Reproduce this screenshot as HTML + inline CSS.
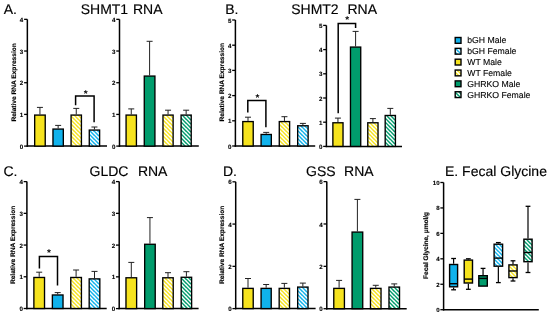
<!DOCTYPE html>
<html><head><meta charset="utf-8"><style>html,body{margin:0;padding:0;background:#fff;width:550px;height:316px;overflow:hidden}svg{display:block}</style></head>
<body>
<svg width="550" height="316" viewBox="0 0 550 316">
<defs>
<pattern id="hy" width="4" height="4" patternUnits="userSpaceOnUse"><rect width="4" height="4" fill="#fff"/><path d="M0,0 L4,4 L1.9,4 L0,2.1Z M2.1,0 L4,0 L4,1.9Z" fill="#F6E31E"/></pattern>
<pattern id="hb" width="4" height="4" patternUnits="userSpaceOnUse"><rect width="4" height="4" fill="#fff"/><path d="M0,0 L4,4 L1.9,4 L0,2.1Z M2.1,0 L4,0 L4,1.9Z" fill="#10B2EC"/></pattern>
<pattern id="hg" width="4" height="4" patternUnits="userSpaceOnUse"><rect width="4" height="4" fill="#fff"/><path d="M0,0 L4,4 L1.9,4 L0,2.1Z M2.1,0 L4,0 L4,1.9Z" fill="#009C6C"/></pattern>
</defs>
<rect width="550" height="316" fill="#fff"/>
<g font-family="Liberation Sans, Arial, sans-serif" fill="#000" text-rendering="geometricPrecision">
<text x="3.77" y="14.3" font-size="14" text-anchor="start" font-weight="normal" stroke="#000" stroke-width="0.15">A.</text>
<text x="80.7" y="14.3" font-size="14" text-anchor="start" font-weight="normal" stroke="#000" stroke-width="0.15">SHMT1</text>
<text x="133.0" y="14.3" font-size="14" text-anchor="start" font-weight="normal" stroke="#000" stroke-width="0.15">RNA</text>
<text x="225.2" y="14.3" font-size="14" text-anchor="start" font-weight="normal" stroke="#000" stroke-width="0.15">B.</text>
<text x="291.2" y="14.3" font-size="14" text-anchor="start" font-weight="normal" stroke="#000" stroke-width="0.15">SHMT2</text>
<text x="347.5" y="14.3" font-size="14" text-anchor="start" font-weight="normal" stroke="#000" stroke-width="0.15">RNA</text>
<text x="3.4" y="176.0" font-size="14" text-anchor="start" font-weight="normal" stroke="#000" stroke-width="0.15">C.</text>
<text x="89.5" y="176.0" font-size="14" text-anchor="start" font-weight="normal" stroke="#000" stroke-width="0.15">GLDC</text>
<text x="137.9" y="176.0" font-size="14" text-anchor="start" font-weight="normal" stroke="#000" stroke-width="0.15">RNA</text>
<text x="223.0" y="176.0" font-size="14" text-anchor="start" font-weight="normal" stroke="#000" stroke-width="0.15">D.</text>
<text x="306.1" y="176.0" font-size="14" text-anchor="start" font-weight="normal" stroke="#000" stroke-width="0.15">GSS</text>
<text x="344.1" y="176.0" font-size="14" text-anchor="start" font-weight="normal" stroke="#000" stroke-width="0.15">RNA</text>
<text x="445.0" y="176.0" font-size="14" text-anchor="start" font-weight="normal" stroke="#000" stroke-width="0.15">E. Fecal Glycine</text>
<text transform="translate(15.6,82.4) rotate(-90)" x="0" y="0" font-size="6.5" font-weight="bold" text-anchor="middle" textLength="78.4" lengthAdjust="spacingAndGlyphs" stroke="#000" stroke-width="0.15">Relative RNA Expression</text>
<text transform="translate(223.5,82.2) rotate(-90)" x="0" y="0" font-size="6.5" font-weight="bold" text-anchor="middle" textLength="78.4" lengthAdjust="spacingAndGlyphs" stroke="#000" stroke-width="0.15">Relative RNA Expression</text>
<text transform="translate(15.1,244.9) rotate(-90)" x="0" y="0" font-size="6.5" font-weight="bold" text-anchor="middle" textLength="78.4" lengthAdjust="spacingAndGlyphs" stroke="#000" stroke-width="0.15">Relative RNA Expression</text>
<text transform="translate(223.6,244.9) rotate(-90)" x="0" y="0" font-size="6.5" font-weight="bold" text-anchor="middle" textLength="78.4" lengthAdjust="spacingAndGlyphs" stroke="#000" stroke-width="0.15">Relative RNA Expression</text>
<line x1="27.35" y1="19.33999999999999" x2="27.35" y2="146.85" stroke="#000" stroke-width="1.5"/>
<line x1="26.6" y1="146.1" x2="107" y2="146.1" stroke="#000" stroke-width="1.5"/>
<line x1="24.1" y1="146.1" x2="27.35" y2="146.1" stroke="#000" stroke-width="1.3"/>
<text x="23.3" y="148.632" font-size="6.2" text-anchor="end" font-weight="bold" stroke="#000" stroke-width="0.12">0</text>
<line x1="24.1" y1="114.41" x2="27.35" y2="114.41" stroke="#000" stroke-width="1.3"/>
<text x="23.3" y="116.942" font-size="6.2" text-anchor="end" font-weight="bold" stroke="#000" stroke-width="0.12">1</text>
<line x1="24.1" y1="82.72" x2="27.35" y2="82.72" stroke="#000" stroke-width="1.3"/>
<text x="23.3" y="85.252" font-size="6.2" text-anchor="end" font-weight="bold" stroke="#000" stroke-width="0.12">2</text>
<line x1="24.1" y1="51.02999999999999" x2="27.35" y2="51.02999999999999" stroke="#000" stroke-width="1.3"/>
<text x="23.3" y="53.56199999999998" font-size="6.2" text-anchor="end" font-weight="bold" stroke="#000" stroke-width="0.12">3</text>
<line x1="24.1" y1="19.33999999999999" x2="27.35" y2="19.33999999999999" stroke="#000" stroke-width="1.3"/>
<text x="23.3" y="21.87199999999999" font-size="6.2" text-anchor="end" font-weight="bold" stroke="#000" stroke-width="0.12">4</text>
<line x1="39.95" y1="114.4" x2="39.95" y2="107.4" stroke="#222" stroke-width="1.0"/>
<line x1="36.95" y1="107.4" x2="42.95" y2="107.4" stroke="#222" stroke-width="1.0"/>
<rect x="34.675" y="115.075" width="10.549999999999999" height="31.024999999999988" fill="#F6E31E" stroke="#000" stroke-width="1.35"/>
<line x1="58.15" y1="128.4" x2="58.15" y2="125.4" stroke="#222" stroke-width="1.0"/>
<line x1="55.15" y1="125.4" x2="61.15" y2="125.4" stroke="#222" stroke-width="1.0"/>
<rect x="52.974999999999994" y="129.07500000000002" width="10.350000000000003" height="17.024999999999988" fill="#10B2EC" stroke="#000" stroke-width="1.35"/>
<line x1="76.25" y1="114.4" x2="76.25" y2="108.4" stroke="#222" stroke-width="1.0"/>
<line x1="73.25" y1="108.4" x2="79.25" y2="108.4" stroke="#222" stroke-width="1.0"/>
<rect x="71.075" y="115.075" width="10.349999999999989" height="31.024999999999988" fill="url(#hy)" stroke="#000" stroke-width="1.35"/>
<line x1="94.44999999999999" y1="129.4" x2="94.44999999999999" y2="127" stroke="#222" stroke-width="1.0"/>
<line x1="91.44999999999999" y1="127" x2="97.44999999999999" y2="127" stroke="#222" stroke-width="1.0"/>
<rect x="89.27499999999999" y="130.07500000000002" width="10.350000000000003" height="16.024999999999988" fill="url(#hb)" stroke="#000" stroke-width="1.35"/>
<polyline points="75.6,105.3 75.6,96.1 94.1,96.1 94.1,122.3" fill="none" stroke="#000" stroke-width="1.5"/>
<text x="85.8" y="96.60000000000001" font-size="10" text-anchor="middle" font-weight="bold">*</text>
<line x1="119.5" y1="19.33999999999999" x2="119.5" y2="146.85" stroke="#000" stroke-width="1.5"/>
<line x1="118.75" y1="146.1" x2="198.8" y2="146.1" stroke="#000" stroke-width="1.5"/>
<line x1="116.25" y1="146.1" x2="119.5" y2="146.1" stroke="#000" stroke-width="1.3"/>
<text x="115.45" y="148.632" font-size="6.2" text-anchor="end" font-weight="bold" stroke="#000" stroke-width="0.12">0</text>
<line x1="116.25" y1="114.41" x2="119.5" y2="114.41" stroke="#000" stroke-width="1.3"/>
<text x="115.45" y="116.942" font-size="6.2" text-anchor="end" font-weight="bold" stroke="#000" stroke-width="0.12">1</text>
<line x1="116.25" y1="82.72" x2="119.5" y2="82.72" stroke="#000" stroke-width="1.3"/>
<text x="115.45" y="85.252" font-size="6.2" text-anchor="end" font-weight="bold" stroke="#000" stroke-width="0.12">2</text>
<line x1="116.25" y1="51.02999999999999" x2="119.5" y2="51.02999999999999" stroke="#000" stroke-width="1.3"/>
<text x="115.45" y="53.56199999999998" font-size="6.2" text-anchor="end" font-weight="bold" stroke="#000" stroke-width="0.12">3</text>
<line x1="116.25" y1="19.33999999999999" x2="119.5" y2="19.33999999999999" stroke="#000" stroke-width="1.3"/>
<text x="115.45" y="21.87199999999999" font-size="6.2" text-anchor="end" font-weight="bold" stroke="#000" stroke-width="0.12">4</text>
<line x1="131.25" y1="114.4" x2="131.25" y2="108.9" stroke="#222" stroke-width="1.0"/>
<line x1="128.25" y1="108.9" x2="134.25" y2="108.9" stroke="#222" stroke-width="1.0"/>
<rect x="126.075" y="115.075" width="10.350000000000017" height="31.024999999999988" fill="#F6E31E" stroke="#000" stroke-width="1.35"/>
<line x1="149.60000000000002" y1="75.4" x2="149.60000000000002" y2="41.3" stroke="#222" stroke-width="1.0"/>
<line x1="146.60000000000002" y1="41.3" x2="152.60000000000002" y2="41.3" stroke="#222" stroke-width="1.0"/>
<rect x="144.275" y="76.075" width="10.650000000000029" height="70.02499999999999" fill="#009C6C" stroke="#000" stroke-width="1.35"/>
<line x1="168.05" y1="114.4" x2="168.05" y2="110.2" stroke="#222" stroke-width="1.0"/>
<line x1="165.05" y1="110.2" x2="171.05" y2="110.2" stroke="#222" stroke-width="1.0"/>
<rect x="162.97500000000002" y="115.075" width="10.15" height="31.024999999999988" fill="url(#hy)" stroke="#000" stroke-width="1.35"/>
<line x1="186.15" y1="114.4" x2="186.15" y2="110.2" stroke="#222" stroke-width="1.0"/>
<line x1="183.15" y1="110.2" x2="189.15" y2="110.2" stroke="#222" stroke-width="1.0"/>
<rect x="181.07500000000002" y="115.075" width="10.15" height="31.024999999999988" fill="url(#hg)" stroke="#000" stroke-width="1.35"/>
<line x1="235.4" y1="20.0" x2="235.4" y2="146.75" stroke="#000" stroke-width="1.5"/>
<line x1="234.65" y1="146.0" x2="315.2" y2="146.0" stroke="#000" stroke-width="1.5"/>
<line x1="232.15" y1="146.0" x2="235.4" y2="146.0" stroke="#000" stroke-width="1.3"/>
<text x="231.35" y="148.532" font-size="6.2" text-anchor="end" font-weight="bold" stroke="#000" stroke-width="0.12">0</text>
<line x1="232.15" y1="120.8" x2="235.4" y2="120.8" stroke="#000" stroke-width="1.3"/>
<text x="231.35" y="123.332" font-size="6.2" text-anchor="end" font-weight="bold" stroke="#000" stroke-width="0.12">1</text>
<line x1="232.15" y1="95.6" x2="235.4" y2="95.6" stroke="#000" stroke-width="1.3"/>
<text x="231.35" y="98.13199999999999" font-size="6.2" text-anchor="end" font-weight="bold" stroke="#000" stroke-width="0.12">2</text>
<line x1="232.15" y1="70.4" x2="235.4" y2="70.4" stroke="#000" stroke-width="1.3"/>
<text x="231.35" y="72.932" font-size="6.2" text-anchor="end" font-weight="bold" stroke="#000" stroke-width="0.12">3</text>
<line x1="232.15" y1="45.2" x2="235.4" y2="45.2" stroke="#000" stroke-width="1.3"/>
<text x="231.35" y="47.732" font-size="6.2" text-anchor="end" font-weight="bold" stroke="#000" stroke-width="0.12">4</text>
<line x1="232.15" y1="20.0" x2="235.4" y2="20.0" stroke="#000" stroke-width="1.3"/>
<text x="231.35" y="22.532" font-size="6.2" text-anchor="end" font-weight="bold" stroke="#000" stroke-width="0.12">5</text>
<line x1="248.0" y1="120.9" x2="248.0" y2="117.2" stroke="#222" stroke-width="1.0"/>
<line x1="245.0" y1="117.2" x2="251.0" y2="117.2" stroke="#222" stroke-width="1.0"/>
<rect x="242.775" y="121.575" width="10.450000000000012" height="24.424999999999994" fill="#F6E31E" stroke="#000" stroke-width="1.35"/>
<line x1="266.2" y1="133.8" x2="266.2" y2="132.4" stroke="#222" stroke-width="1.0"/>
<line x1="263.2" y1="132.4" x2="269.2" y2="132.4" stroke="#222" stroke-width="1.0"/>
<rect x="261.075" y="134.47500000000002" width="10.250000000000023" height="11.524999999999988" fill="#10B2EC" stroke="#000" stroke-width="1.35"/>
<line x1="284.45000000000005" y1="120.9" x2="284.45000000000005" y2="116.7" stroke="#222" stroke-width="1.0"/>
<line x1="281.45000000000005" y1="116.7" x2="287.45000000000005" y2="116.7" stroke="#222" stroke-width="1.0"/>
<rect x="279.27500000000003" y="121.575" width="10.349999999999989" height="24.424999999999994" fill="url(#hy)" stroke="#000" stroke-width="1.35"/>
<line x1="302.9" y1="125.1" x2="302.9" y2="123.4" stroke="#222" stroke-width="1.0"/>
<line x1="299.9" y1="123.4" x2="305.9" y2="123.4" stroke="#222" stroke-width="1.0"/>
<rect x="297.675" y="125.77499999999999" width="10.450000000000012" height="20.225000000000005" fill="url(#hb)" stroke="#000" stroke-width="1.35"/>
<polyline points="247.8,112.5 247.8,100.4 265.9,100.4 265.9,127.2" fill="none" stroke="#000" stroke-width="1.5"/>
<text x="257.4" y="100.5" font-size="10" text-anchor="middle" font-weight="bold">*</text>
<line x1="326.4" y1="25.400000000000006" x2="326.4" y2="147.15" stroke="#000" stroke-width="1.5"/>
<line x1="325.65" y1="146.4" x2="402" y2="146.4" stroke="#000" stroke-width="1.5"/>
<line x1="323.15" y1="146.4" x2="326.4" y2="146.4" stroke="#000" stroke-width="1.3"/>
<text x="322.34999999999997" y="148.93200000000002" font-size="6.2" text-anchor="end" font-weight="bold" stroke="#000" stroke-width="0.12">0</text>
<line x1="323.15" y1="122.2" x2="326.4" y2="122.2" stroke="#000" stroke-width="1.3"/>
<text x="322.34999999999997" y="124.732" font-size="6.2" text-anchor="end" font-weight="bold" stroke="#000" stroke-width="0.12">1</text>
<line x1="323.15" y1="98.0" x2="326.4" y2="98.0" stroke="#000" stroke-width="1.3"/>
<text x="322.34999999999997" y="100.532" font-size="6.2" text-anchor="end" font-weight="bold" stroke="#000" stroke-width="0.12">2</text>
<line x1="323.15" y1="73.80000000000001" x2="326.4" y2="73.80000000000001" stroke="#000" stroke-width="1.3"/>
<text x="322.34999999999997" y="76.33200000000001" font-size="6.2" text-anchor="end" font-weight="bold" stroke="#000" stroke-width="0.12">3</text>
<line x1="323.15" y1="49.60000000000001" x2="326.4" y2="49.60000000000001" stroke="#000" stroke-width="1.3"/>
<text x="322.34999999999997" y="52.132000000000005" font-size="6.2" text-anchor="end" font-weight="bold" stroke="#000" stroke-width="0.12">4</text>
<line x1="323.15" y1="25.400000000000006" x2="326.4" y2="25.400000000000006" stroke="#000" stroke-width="1.3"/>
<text x="322.34999999999997" y="27.932000000000006" font-size="6.2" text-anchor="end" font-weight="bold" stroke="#000" stroke-width="0.12">5</text>
<line x1="337.95" y1="122.1" x2="337.95" y2="118.1" stroke="#222" stroke-width="1.0"/>
<line x1="334.95" y1="118.1" x2="340.95" y2="118.1" stroke="#222" stroke-width="1.0"/>
<rect x="332.875" y="122.77499999999999" width="10.15" height="23.62500000000001" fill="#F6E31E" stroke="#000" stroke-width="1.35"/>
<line x1="355.6" y1="46.4" x2="355.6" y2="31.4" stroke="#222" stroke-width="1.0"/>
<line x1="352.6" y1="31.4" x2="358.6" y2="31.4" stroke="#222" stroke-width="1.0"/>
<rect x="350.475" y="47.074999999999996" width="10.250000000000023" height="99.325" fill="#009C6C" stroke="#000" stroke-width="1.35"/>
<line x1="372.9" y1="122.1" x2="372.9" y2="118.6" stroke="#222" stroke-width="1.0"/>
<line x1="369.9" y1="118.6" x2="375.9" y2="118.6" stroke="#222" stroke-width="1.0"/>
<rect x="367.77500000000003" y="122.77499999999999" width="10.249999999999966" height="23.62500000000001" fill="url(#hy)" stroke="#000" stroke-width="1.35"/>
<line x1="390.3" y1="114.8" x2="390.3" y2="108.4" stroke="#222" stroke-width="1.0"/>
<line x1="387.3" y1="108.4" x2="393.3" y2="108.4" stroke="#222" stroke-width="1.0"/>
<rect x="385.175" y="115.475" width="10.250000000000023" height="30.925000000000008" fill="url(#hg)" stroke="#000" stroke-width="1.35"/>
<polyline points="338.2,113.3 338.2,23.6 355.6,23.6 355.6,28" fill="none" stroke="#000" stroke-width="1.5"/>
<text x="347.3" y="22.8" font-size="10" text-anchor="middle" font-weight="bold">*</text>
<line x1="26.9" y1="181.62" x2="26.9" y2="309.25" stroke="#000" stroke-width="1.5"/>
<line x1="26.15" y1="308.5" x2="106.7" y2="308.5" stroke="#000" stroke-width="1.5"/>
<line x1="23.65" y1="308.5" x2="26.9" y2="308.5" stroke="#000" stroke-width="1.3"/>
<text x="22.849999999999998" y="311.03200000000004" font-size="6.2" text-anchor="end" font-weight="bold" stroke="#000" stroke-width="0.12">0</text>
<line x1="23.65" y1="276.78" x2="26.9" y2="276.78" stroke="#000" stroke-width="1.3"/>
<text x="22.849999999999998" y="279.312" font-size="6.2" text-anchor="end" font-weight="bold" stroke="#000" stroke-width="0.12">1</text>
<line x1="23.65" y1="245.06" x2="26.9" y2="245.06" stroke="#000" stroke-width="1.3"/>
<text x="22.849999999999998" y="247.592" font-size="6.2" text-anchor="end" font-weight="bold" stroke="#000" stroke-width="0.12">2</text>
<line x1="23.65" y1="213.34" x2="26.9" y2="213.34" stroke="#000" stroke-width="1.3"/>
<text x="22.849999999999998" y="215.872" font-size="6.2" text-anchor="end" font-weight="bold" stroke="#000" stroke-width="0.12">3</text>
<line x1="23.65" y1="181.62" x2="26.9" y2="181.62" stroke="#000" stroke-width="1.3"/>
<text x="22.849999999999998" y="184.15200000000002" font-size="6.2" text-anchor="end" font-weight="bold" stroke="#000" stroke-width="0.12">4</text>
<line x1="39.2" y1="276.8" x2="39.2" y2="272.2" stroke="#222" stroke-width="1.0"/>
<line x1="36.2" y1="272.2" x2="42.2" y2="272.2" stroke="#222" stroke-width="1.0"/>
<rect x="33.875" y="277.475" width="10.649999999999993" height="31.024999999999988" fill="#F6E31E" stroke="#000" stroke-width="1.35"/>
<line x1="57.7" y1="294.3" x2="57.7" y2="292.6" stroke="#222" stroke-width="1.0"/>
<line x1="54.7" y1="292.6" x2="60.7" y2="292.6" stroke="#222" stroke-width="1.0"/>
<rect x="52.375" y="294.975" width="10.649999999999993" height="13.524999999999988" fill="#10B2EC" stroke="#000" stroke-width="1.35"/>
<line x1="76.1" y1="276.8" x2="76.1" y2="270" stroke="#222" stroke-width="1.0"/>
<line x1="73.1" y1="270" x2="79.1" y2="270" stroke="#222" stroke-width="1.0"/>
<rect x="70.77499999999999" y="277.475" width="10.65" height="31.024999999999988" fill="url(#hy)" stroke="#000" stroke-width="1.35"/>
<line x1="94.5" y1="278.2" x2="94.5" y2="271.4" stroke="#222" stroke-width="1.0"/>
<line x1="91.5" y1="271.4" x2="97.5" y2="271.4" stroke="#222" stroke-width="1.0"/>
<rect x="89.175" y="278.875" width="10.65" height="29.62500000000001" fill="url(#hb)" stroke="#000" stroke-width="1.35"/>
<polyline points="39.4,268.5 39.4,256.4 57.5,256.4 57.5,285.6" fill="none" stroke="#000" stroke-width="1.5"/>
<text x="49.0" y="256.2" font-size="10" text-anchor="middle" font-weight="bold">*</text>
<line x1="119.2" y1="181.60000000000002" x2="119.2" y2="309.35" stroke="#000" stroke-width="1.5"/>
<line x1="118.45" y1="308.6" x2="198.6" y2="308.6" stroke="#000" stroke-width="1.5"/>
<line x1="115.95" y1="308.6" x2="119.2" y2="308.6" stroke="#000" stroke-width="1.3"/>
<text x="115.15" y="311.13200000000006" font-size="6.2" text-anchor="end" font-weight="bold" stroke="#000" stroke-width="0.12">0</text>
<line x1="115.95" y1="276.85" x2="119.2" y2="276.85" stroke="#000" stroke-width="1.3"/>
<text x="115.15" y="279.38200000000006" font-size="6.2" text-anchor="end" font-weight="bold" stroke="#000" stroke-width="0.12">1</text>
<line x1="115.95" y1="245.10000000000002" x2="119.2" y2="245.10000000000002" stroke="#000" stroke-width="1.3"/>
<text x="115.15" y="247.63200000000003" font-size="6.2" text-anchor="end" font-weight="bold" stroke="#000" stroke-width="0.12">2</text>
<line x1="115.95" y1="213.35000000000002" x2="119.2" y2="213.35000000000002" stroke="#000" stroke-width="1.3"/>
<text x="115.15" y="215.88200000000003" font-size="6.2" text-anchor="end" font-weight="bold" stroke="#000" stroke-width="0.12">3</text>
<line x1="115.95" y1="181.60000000000002" x2="119.2" y2="181.60000000000002" stroke="#000" stroke-width="1.3"/>
<text x="115.15" y="184.13200000000003" font-size="6.2" text-anchor="end" font-weight="bold" stroke="#000" stroke-width="0.12">4</text>
<line x1="131.3" y1="277.1" x2="131.3" y2="262.4" stroke="#222" stroke-width="1.0"/>
<line x1="128.3" y1="262.4" x2="134.3" y2="262.4" stroke="#222" stroke-width="1.0"/>
<rect x="125.975" y="277.77500000000003" width="10.650000000000015" height="30.825" fill="#F6E31E" stroke="#000" stroke-width="1.35"/>
<line x1="149.95" y1="243.6" x2="149.95" y2="217.6" stroke="#222" stroke-width="1.0"/>
<line x1="146.95" y1="217.6" x2="152.95" y2="217.6" stroke="#222" stroke-width="1.0"/>
<rect x="144.675" y="244.275" width="10.550000000000006" height="64.32500000000003" fill="#009C6C" stroke="#000" stroke-width="1.35"/>
<line x1="168.0" y1="277.1" x2="168.0" y2="272.7" stroke="#222" stroke-width="1.0"/>
<line x1="165.0" y1="272.7" x2="171.0" y2="272.7" stroke="#222" stroke-width="1.0"/>
<rect x="162.775" y="277.77500000000003" width="10.450000000000012" height="30.825" fill="url(#hy)" stroke="#000" stroke-width="1.35"/>
<line x1="186.4" y1="276.6" x2="186.4" y2="271.7" stroke="#222" stroke-width="1.0"/>
<line x1="183.4" y1="271.7" x2="189.4" y2="271.7" stroke="#222" stroke-width="1.0"/>
<rect x="181.175" y="277.27500000000003" width="10.450000000000012" height="31.325" fill="url(#hg)" stroke="#000" stroke-width="1.35"/>
<line x1="235.7" y1="181.82000000000002" x2="235.7" y2="309.35" stroke="#000" stroke-width="1.5"/>
<line x1="234.95" y1="308.6" x2="315.6" y2="308.6" stroke="#000" stroke-width="1.5"/>
<line x1="232.45" y1="308.6" x2="235.7" y2="308.6" stroke="#000" stroke-width="1.3"/>
<text x="231.64999999999998" y="311.13200000000006" font-size="6.2" text-anchor="end" font-weight="bold" stroke="#000" stroke-width="0.12">0</text>
<line x1="232.45" y1="266.34000000000003" x2="235.7" y2="266.34000000000003" stroke="#000" stroke-width="1.3"/>
<text x="231.64999999999998" y="268.87200000000007" font-size="6.2" text-anchor="end" font-weight="bold" stroke="#000" stroke-width="0.12">2</text>
<line x1="232.45" y1="224.08000000000004" x2="235.7" y2="224.08000000000004" stroke="#000" stroke-width="1.3"/>
<text x="231.64999999999998" y="226.61200000000005" font-size="6.2" text-anchor="end" font-weight="bold" stroke="#000" stroke-width="0.12">4</text>
<line x1="232.45" y1="181.82000000000002" x2="235.7" y2="181.82000000000002" stroke="#000" stroke-width="1.3"/>
<text x="231.64999999999998" y="184.35200000000003" font-size="6.2" text-anchor="end" font-weight="bold" stroke="#000" stroke-width="0.12">6</text>
<line x1="248.0" y1="287.7" x2="248.0" y2="278.5" stroke="#222" stroke-width="1.0"/>
<line x1="245.0" y1="278.5" x2="251.0" y2="278.5" stroke="#222" stroke-width="1.0"/>
<rect x="242.775" y="288.375" width="10.450000000000012" height="20.225000000000033" fill="#F6E31E" stroke="#000" stroke-width="1.35"/>
<line x1="266.15" y1="287.7" x2="266.15" y2="284.5" stroke="#222" stroke-width="1.0"/>
<line x1="263.15" y1="284.5" x2="269.15" y2="284.5" stroke="#222" stroke-width="1.0"/>
<rect x="261.075" y="288.375" width="10.150000000000057" height="20.225000000000033" fill="#10B2EC" stroke="#000" stroke-width="1.35"/>
<line x1="284.35" y1="287.7" x2="284.35" y2="283.4" stroke="#222" stroke-width="1.0"/>
<line x1="281.35" y1="283.4" x2="287.35" y2="283.4" stroke="#222" stroke-width="1.0"/>
<rect x="279.175" y="288.375" width="10.349999999999989" height="20.225000000000033" fill="url(#hy)" stroke="#000" stroke-width="1.35"/>
<line x1="302.85" y1="286.4" x2="302.85" y2="283.1" stroke="#222" stroke-width="1.0"/>
<line x1="299.85" y1="283.1" x2="305.85" y2="283.1" stroke="#222" stroke-width="1.0"/>
<rect x="297.675" y="287.075" width="10.349999999999989" height="21.525000000000045" fill="url(#hb)" stroke="#000" stroke-width="1.35"/>
<line x1="326.8" y1="181.62" x2="326.8" y2="309.45" stroke="#000" stroke-width="1.5"/>
<line x1="326.05" y1="308.7" x2="406.7" y2="308.7" stroke="#000" stroke-width="1.5"/>
<line x1="323.55" y1="308.7" x2="326.8" y2="308.7" stroke="#000" stroke-width="1.3"/>
<text x="322.75" y="311.232" font-size="6.2" text-anchor="end" font-weight="bold" stroke="#000" stroke-width="0.12">0</text>
<line x1="323.55" y1="266.34" x2="326.8" y2="266.34" stroke="#000" stroke-width="1.3"/>
<text x="322.75" y="268.872" font-size="6.2" text-anchor="end" font-weight="bold" stroke="#000" stroke-width="0.12">2</text>
<line x1="323.55" y1="223.98" x2="326.8" y2="223.98" stroke="#000" stroke-width="1.3"/>
<text x="322.75" y="226.512" font-size="6.2" text-anchor="end" font-weight="bold" stroke="#000" stroke-width="0.12">4</text>
<line x1="323.55" y1="181.62" x2="326.8" y2="181.62" stroke="#000" stroke-width="1.3"/>
<text x="322.75" y="184.15200000000002" font-size="6.2" text-anchor="end" font-weight="bold" stroke="#000" stroke-width="0.12">6</text>
<line x1="339.1" y1="287.7" x2="339.1" y2="280.4" stroke="#222" stroke-width="1.0"/>
<line x1="336.1" y1="280.4" x2="342.1" y2="280.4" stroke="#222" stroke-width="1.0"/>
<rect x="333.77500000000003" y="288.375" width="10.65" height="20.325" fill="#F6E31E" stroke="#000" stroke-width="1.35"/>
<line x1="357.4" y1="231.4" x2="357.4" y2="199.4" stroke="#222" stroke-width="1.0"/>
<line x1="354.4" y1="199.4" x2="360.4" y2="199.4" stroke="#222" stroke-width="1.0"/>
<rect x="352.075" y="232.07500000000002" width="10.650000000000057" height="76.62499999999999" fill="#009C6C" stroke="#000" stroke-width="1.35"/>
<line x1="375.75" y1="287.7" x2="375.75" y2="285.3" stroke="#222" stroke-width="1.0"/>
<line x1="372.75" y1="285.3" x2="378.75" y2="285.3" stroke="#222" stroke-width="1.0"/>
<rect x="370.475" y="288.375" width="10.549999999999978" height="20.325" fill="url(#hy)" stroke="#000" stroke-width="1.35"/>
<line x1="394.25" y1="286.4" x2="394.25" y2="283.9" stroke="#222" stroke-width="1.0"/>
<line x1="391.25" y1="283.9" x2="397.25" y2="283.9" stroke="#222" stroke-width="1.0"/>
<rect x="388.975" y="287.075" width="10.549999999999978" height="21.62500000000001" fill="url(#hg)" stroke="#000" stroke-width="1.35"/>
<line x1="443.6" y1="182.5" x2="443.6" y2="310.45" stroke="#000" stroke-width="1.5"/>
<line x1="442.85" y1="309.7" x2="538.8" y2="309.7" stroke="#000" stroke-width="1.5"/>
<line x1="440.35" y1="309.7" x2="443.6" y2="309.7" stroke="#000" stroke-width="1.3"/>
<text x="439.55" y="312.196" font-size="6.1" text-anchor="end" font-weight="bold" stroke="#000" stroke-width="0.12">0</text>
<line x1="440.35" y1="284.26" x2="443.6" y2="284.26" stroke="#000" stroke-width="1.3"/>
<text x="439.55" y="286.75600000000003" font-size="6.1" text-anchor="end" font-weight="bold" stroke="#000" stroke-width="0.12">2</text>
<line x1="440.35" y1="258.82" x2="443.6" y2="258.82" stroke="#000" stroke-width="1.3"/>
<text x="439.55" y="261.31600000000003" font-size="6.1" text-anchor="end" font-weight="bold" stroke="#000" stroke-width="0.12">4</text>
<line x1="440.35" y1="233.38" x2="443.6" y2="233.38" stroke="#000" stroke-width="1.3"/>
<text x="439.55" y="235.876" font-size="6.1" text-anchor="end" font-weight="bold" stroke="#000" stroke-width="0.12">6</text>
<line x1="440.35" y1="207.94" x2="443.6" y2="207.94" stroke="#000" stroke-width="1.3"/>
<text x="439.55" y="210.436" font-size="6.1" text-anchor="end" font-weight="bold" stroke="#000" stroke-width="0.12">8</text>
<line x1="440.35" y1="182.5" x2="443.6" y2="182.5" stroke="#000" stroke-width="1.3"/>
<text x="439.55" y="184.996" font-size="6.1" text-anchor="end" font-weight="bold" stroke="#000" stroke-width="0.12">10</text>
<text transform="translate(428.3,245.4) rotate(-90)" x="0" y="0" font-size="6.6" font-weight="bold" text-anchor="middle" textLength="67" lengthAdjust="spacingAndGlyphs" stroke="#000" stroke-width="0.15">Fecal Glycine, μmol/g</text>
<line x1="453.6" y1="258.5" x2="453.6" y2="263.8" stroke="#000" stroke-width="1.2"/>
<line x1="451.20000000000005" y1="258.5" x2="456.0" y2="258.5" stroke="#000" stroke-width="1.3"/>
<line x1="453.6" y1="287.5" x2="453.6" y2="289.8" stroke="#000" stroke-width="1.2"/>
<line x1="451.20000000000005" y1="289.8" x2="456.0" y2="289.8" stroke="#000" stroke-width="1.3"/>
<rect x="449.59999999999997" y="264.5" width="8.000000000000034" height="22.29999999999999" fill="#10B2EC" stroke="#000" stroke-width="1.4"/>
<line x1="449.59999999999997" y1="283.7" x2="457.6" y2="283.7" stroke="#000" stroke-width="1.4"/>
<line x1="468.35" y1="258.8" x2="468.35" y2="259.4" stroke="#000" stroke-width="1.2"/>
<line x1="465.95000000000005" y1="258.8" x2="470.75" y2="258.8" stroke="#000" stroke-width="1.3"/>
<line x1="468.35" y1="283.7" x2="468.35" y2="289.3" stroke="#000" stroke-width="1.2"/>
<line x1="465.95000000000005" y1="289.3" x2="470.75" y2="289.3" stroke="#000" stroke-width="1.3"/>
<rect x="464.2" y="260.09999999999997" width="8.299999999999988" height="22.900000000000013" fill="#F6E31E" stroke="#000" stroke-width="1.4"/>
<line x1="464.2" y1="279.1" x2="472.5" y2="279.1" stroke="#000" stroke-width="1.4"/>
<line x1="483.05" y1="268.4" x2="483.05" y2="275.0" stroke="#000" stroke-width="1.2"/>
<line x1="480.65000000000003" y1="268.4" x2="485.45" y2="268.4" stroke="#000" stroke-width="1.3"/>
<rect x="478.8" y="275.7" width="8.499999999999977" height="10.400000000000011" fill="#009C6C" stroke="#000" stroke-width="1.4"/>
<line x1="478.8" y1="278.4" x2="487.3" y2="278.4" stroke="#000" stroke-width="1.4"/>
<line x1="498.35" y1="242.6" x2="498.35" y2="243.5" stroke="#000" stroke-width="1.2"/>
<line x1="495.95000000000005" y1="242.6" x2="500.75" y2="242.6" stroke="#000" stroke-width="1.3"/>
<line x1="498.35" y1="266.9" x2="498.35" y2="282.6" stroke="#000" stroke-width="1.2"/>
<line x1="495.95000000000005" y1="282.6" x2="500.75" y2="282.6" stroke="#000" stroke-width="1.3"/>
<rect x="494.09999999999997" y="244.2" width="8.500000000000034" height="21.99999999999998" fill="url(#hb)" stroke="#000" stroke-width="1.4"/>
<line x1="494.09999999999997" y1="258.1" x2="502.6" y2="258.1" stroke="#000" stroke-width="1.4"/>
<line x1="513.0" y1="260.8" x2="513.0" y2="264.2" stroke="#000" stroke-width="1.2"/>
<line x1="510.6" y1="260.8" x2="515.4" y2="260.8" stroke="#000" stroke-width="1.3"/>
<line x1="513.0" y1="278.3" x2="513.0" y2="281.0" stroke="#000" stroke-width="1.2"/>
<line x1="510.6" y1="281.0" x2="515.4" y2="281.0" stroke="#000" stroke-width="1.3"/>
<rect x="508.9" y="264.9" width="8.199999999999966" height="12.700000000000022" fill="url(#hy)" stroke="#000" stroke-width="1.4"/>
<line x1="508.9" y1="271.0" x2="517.0999999999999" y2="271.0" stroke="#000" stroke-width="1.4"/>
<line x1="528.0" y1="206.3" x2="528.0" y2="238.5" stroke="#000" stroke-width="1.2"/>
<line x1="525.6" y1="206.3" x2="530.4" y2="206.3" stroke="#000" stroke-width="1.3"/>
<line x1="528.0" y1="262.4" x2="528.0" y2="272.5" stroke="#000" stroke-width="1.2"/>
<line x1="525.6" y1="272.5" x2="530.4" y2="272.5" stroke="#000" stroke-width="1.3"/>
<rect x="523.9000000000001" y="239.2" width="8.199999999999909" height="22.49999999999998" fill="url(#hg)" stroke="#000" stroke-width="1.4"/>
<line x1="523.9000000000001" y1="252.5" x2="532.0999999999999" y2="252.5" stroke="#000" stroke-width="1.4"/>
<rect x="455.2" y="37.5" width="5.8" height="5.8" fill="#10B2EC" stroke="#000" stroke-width="1.4"/>
<text x="467.2" y="43.4" font-size="8.7" text-anchor="start" font-weight="normal" stroke="#000" stroke-width="0.1">bGH Male</text>
<rect x="455.2" y="48.35" width="5.8" height="5.8" fill="url(#hb)" stroke="#000" stroke-width="1.4"/>
<text x="467.2" y="54.25" font-size="8.7" text-anchor="start" font-weight="normal" stroke="#000" stroke-width="0.1">bGH Female</text>
<rect x="455.2" y="59.199999999999996" width="5.8" height="5.8" fill="#F6E31E" stroke="#000" stroke-width="1.4"/>
<text x="467.2" y="65.1" font-size="8.7" text-anchor="start" font-weight="normal" stroke="#000" stroke-width="0.1">WT Male</text>
<rect x="455.2" y="70.04999999999998" width="5.8" height="5.8" fill="url(#hy)" stroke="#000" stroke-width="1.4"/>
<text x="467.2" y="75.94999999999999" font-size="8.7" text-anchor="start" font-weight="normal" stroke="#000" stroke-width="0.1">WT Female</text>
<rect x="455.2" y="80.89999999999999" width="5.8" height="5.8" fill="#009C6C" stroke="#000" stroke-width="1.4"/>
<text x="467.2" y="86.8" font-size="8.7" text-anchor="start" font-weight="normal" stroke="#000" stroke-width="0.1">GHRKO Male</text>
<rect x="455.2" y="91.75" width="5.8" height="5.8" fill="url(#hg)" stroke="#000" stroke-width="1.4"/>
<text x="467.2" y="97.65" font-size="8.7" text-anchor="start" font-weight="normal" stroke="#000" stroke-width="0.1">GHRKO Female</text>
</g></svg>
</body></html>
